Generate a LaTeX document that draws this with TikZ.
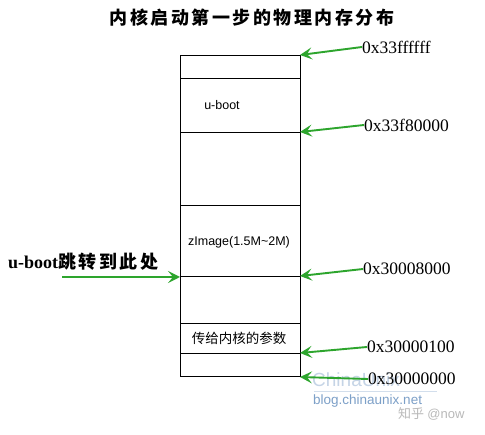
\documentclass[tikz,border=0pt]{standalone}
\usepackage{fontspec}
\setmainfont{Liberation Serif}
\newfontfamily\cjk{Noto Sans CJK SC}
\newfontfamily\sansf{Liberation Sans}
\usetikzlibrary{arrows.meta}
\definecolor{arrowgreen}{RGB}{45,165,45}
\definecolor{wmblue}{RGB}{125,160,200}
\definecolor{wmgray}{RGB}{185,185,185}
\begin{document}
\begin{tikzpicture}[x=1pt,y=-1pt,
  garrow/.style={draw=arrowgreen, line width=1.9pt, -{Stealth[length=12pt,width=12pt,inset=5pt]}},
  addr/.style={anchor=west, inner sep=0pt, font=\fontsize{17.5}{17.5}\selectfont},
  boxline/.style={draw=black, line width=0.7pt},
  inlabel/.style={inner sep=0pt}]
\useasboundingbox (0,0) rectangle (485,435);
\fill[white] (0,0) rectangle (485,435);
% watermark
\node[inner sep=0pt, anchor=west, text=wmblue!45, font=\sansf\fontsize{19}{19}\selectfont] (wm1) at (312,380) {ChinaUnix};
\draw[wmblue!35, line width=0.5pt] (314,391) -- (437,391);
\node[inner sep=0pt, anchor=west, text=wmblue, font=\sansf\fontsize{13.5}{14}\selectfont] (wm2) at (313,401) {blog.chinaunix.net};
\node[inner sep=0pt, anchor=west, text=wmgray, font=\fontsize{13}{14}\selectfont] (wm3) at (398,414) {{\cjk 知乎} {\sansf @now}};
% title
\node[inner sep=0pt, font=\cjk\bfseries\fontsize{18}{20}\selectfont] (title) at (252,18) {\addfontfeatures{LetterSpace=14}内核启动第一步的物理内存分布};
% memory box
\draw[boxline] (180,55) rectangle (300,376);
\foreach \yy in {78,132,205,276,323,353} \draw[boxline] (180,\yy) -- (300,\yy);
\coordinate (e1) at (300,55);
\coordinate (e2) at (300,132);
\coordinate (e3) at (300,276);
\coordinate (e4) at (300,353);
\coordinate (e5) at (300,377);
\coordinate (el) at (180,277);
\coordinate (ls) at (62,277);
% inner labels
\node[inlabel, font=\sansf\fontsize{12.5}{13}\selectfont] (uboot) at (222,105) {u-boot};
\node[inlabel, font=\sansf\fontsize{12.5}{13}\selectfont] (zimg) at (239,242) {zImage(1.5M\textasciitilde 2M)};
\node[inlabel, font=\cjk\fontsize{13.5}{14}\selectfont] (param) at (239,338) {传给内核的参数};
% address labels
\node[addr] (a1) at (362,47) {0x33ffffff};
\node[addr] (a2) at (364,125) {0x33f80000};
\node[addr] (a3) at (363,269) {0x30008000};
\node[addr] (a4) at (367,347) {0x30000100};
\node[addr] (a5) at (368,379) {0x30000000};
\node[inner sep=0pt, anchor=west, font=\fontsize{18}{18}\selectfont] (jmp) at (8,262) {\textbf{u-boot}{\cjk\bfseries\addfontfeatures{LetterSpace=14}跳转到此处}};
% arrows
\draw[garrow] (a1.west) -- (e1);
\draw[garrow] (a2.west) -- (e2);
\draw[garrow] (a3.west) -- (e3);
\draw[garrow] (a4.west) -- (e4);
\draw[garrow] (a5.west) -- (e5);
\draw[garrow] (ls) -- (el);
\end{tikzpicture}
\end{document}
